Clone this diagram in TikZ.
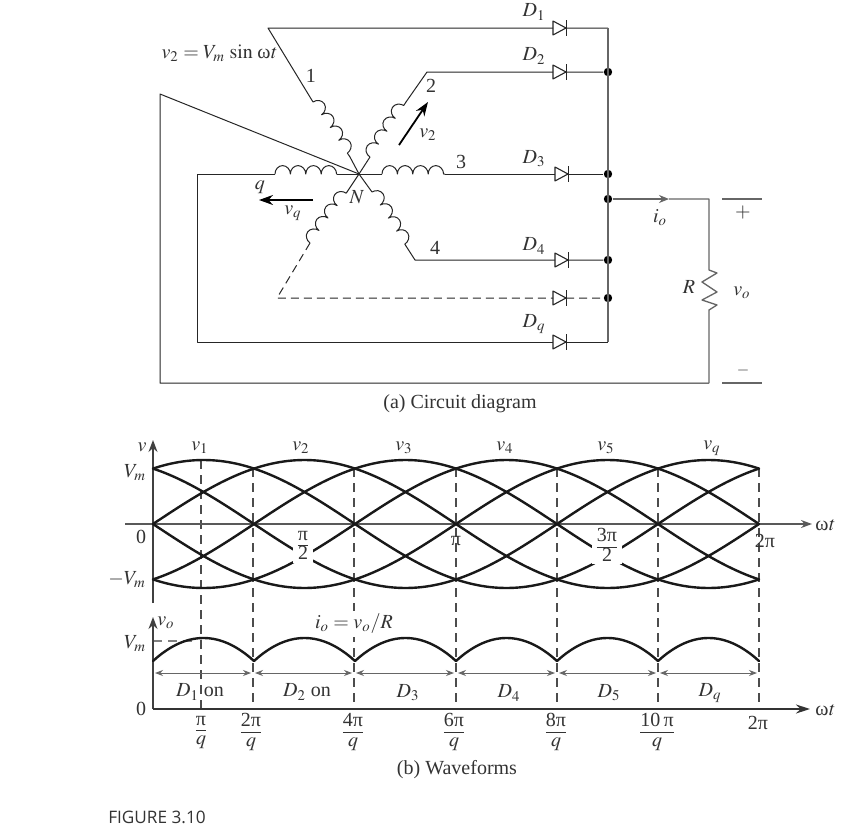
\documentclass[tikz,border=0pt]{standalone}
\usepackage{mathptmx}
\usepackage[no-math]{fontspec}
\setmainfont{Liberation Serif}
\newfontfamily\capfont{Open Sans}
\usetikzlibrary{arrows.meta,shapes.geometric,decorations.pathmorphing}
\newcommand{\upi}{\mbox{π}}
\newcommand{\uom}{\mbox{ω}\mathit{t}}
\newcommand{\upfrac}[2]{$\frac{\mbox{\rule[-2pt]{0pt}{7pt}#1}}{\mbox{\rule{0pt}{6.5pt}#2}}$}
\tikzset{
	wire/.style={line width=0.5pt,draw=black!85},
	bus/.style={line width=0.65pt,draw=black!60},
	dashwire/.style={wire,dash pattern=on 4pt off 2.5pt},
	coil/.style={wire,decorate,decoration={bumps,segment length=15.4pt,amplitude=4.2pt}},
	diode/.style={isosceles triangle,isosceles triangle apex angle=60,isosceles triangle stretches,
		draw=black!85,fill=white,line width=0.55pt,inner sep=0pt,outer sep=0pt,
		minimum height=6.5pt,minimum width=7pt,anchor=west},
	jdot/.style={circle,fill=black,inner sep=0pt,minimum size=4.2pt},
	wave/.style={line width=1.2pt,black!90,line cap=round},
	guide/.style={line width=0.6pt,black!70,dash pattern=on 4.5pt off 3pt},
	axis/.style={line width=0.7pt,black!65,-{Stealth[length=5.5pt,width=4pt]}},
	span/.style={line width=0.5pt,black!60,{Stealth[length=4pt,width=3pt]}-{Stealth[length=4pt,width=3pt]}},
	lab/.style={text=black!80,inner sep=0pt},
}
\begin{document}
\begin{tikzpicture}[x=0.5pt,y=-0.5pt,line join=round]
	\useasboundingbox (0,0) rectangle (859,831);
	\fill[white] (0,0) rectangle (859,831);
	% circuit
	\coordinate (N) at (359,174);
	\coordinate (top1) at (268,28);
	\coordinate (a1) at (313,102);
	\coordinate (b1) at (350,157);
	\coordinate (a2) at (370,157);
	\coordinate (b2) at (406,102);
	\coordinate (top2) at (427,72);
	\coordinate (a3) at (382,174);
	\coordinate (b3) at (445,174);
	\coordinate (a4) at (372,192);
	\coordinate (b4) at (406,246);
	\coordinate (top4) at (415,260);
	\coordinate (a5) at (310,243);
	\coordinate (b5) at (347,192);
	\coordinate (top5) at (277,298);
	\coordinate (aq) at (275,174);
	\coordinate (bq) at (337,174);
	\coordinate (cornq) at (197,174);
	\coordinate (lowq) at (197,342);
	\coordinate (far) at (160,94);
	\coordinate (lowfar) at (160,383);
	\coordinate (ballB) at (608,28);
	\coordinate (ballE) at (608,342);
	\coordinate (rtop) at (709,199);
	\coordinate (rin) at (709,270);
	\coordinate (rout) at (709,310);
	\coordinate (rlow) at (709,383);
	\coordinate (iotip) at (669,199);
	\node[diode] (d1) at (553,28) {};
	\node[diode] (d2) at (553,72) {};
	\node[diode] (d3) at (555,174) {};
	\node[diode] (d4) at (555,260) {};
	\node[diode] (d5) at (553,298) {};
	\node[diode] (dq) at (553,342) {};
	\foreach \n in {d1,d2,d3,d4,d5,dq}
		\draw[wire] (\n.apex) ++(0,-8) -- ++(0,16);
	\node[jdot] (j2) at (608,72) {};
	\node[jdot] (j3) at (608,174) {};
	\node[jdot] (jo) at (608,199) {};
	\node[jdot] (j4) at (608,260) {};
	\node[jdot] (j5) at (608,298) {};
	\draw[wire] (N)--(b1) (a1)--(top1)--(d1.west) (d1.apex)--(ballB);
	\draw[wire] (N)--(a2) (b2)--(top2)--(d2.west) (d2.apex)--(j2);
	\draw[wire] (N)--(a3) (b3)--(d3.west) (d3.apex)--(j3);
	\draw[wire] (N)--(a4) (b4)--(top4)--(d4.west) (d4.apex)--(j4);
	\draw[wire] (N)--(b5);
	\draw[dashwire] (a5)--(top5)--(d5.west) (d5.apex)--(j5);
	\draw[wire] (N)--(bq) (aq)--(cornq)--(lowq)--(dq.west) (dq.apex)--(ballE);
	\draw[wire] (N)--(far)--(lowfar)--(rlow);
	\draw[coil] (a1)--(b1);
	\draw[coil] (a2)--(b2);
	\draw[coil] (a3)--(b3);
	\draw[coil] (a4)--(b4);
	\draw[coil] (a5)--(b5);
	\draw[coil] (aq)--(bq);
	\draw[bus] (ballB)--(ballE);
	\draw[bus,-{Stealth[length=5pt,width=4pt]}] (jo)--(iotip);
	\draw[bus] (iotip)--(rtop)--(rin)--++(8,3)--++(-15,9)--++(15,10)--++(-15,8)--++(15,5)--(rout)--(rlow);
	\draw[bus] (722,199)--(762,199) (722,383)--(762,383);
	\draw[line width=0.9pt,-{Stealth[length=7pt,width=5pt]}] (399,145)--(428,102);
	\draw[line width=0.9pt,-{Stealth[length=7pt,width=5pt]}] (313,200)--(259,200);
	\path[lab]
	(219,53) node[lab]{$v_2=V_m\,\sin\,\uom$}
	(311,76) node[lab]{1}
	(431,86) node[lab]{2}
	(461,162) node[lab]{3}
	(435,248) node[lab]{4}
	(260,187) node[lab]{$q$}
	(293,213) node[lab]{$v_q$}
	(428,135) node[lab]{$v_2$}
	(357,197) node[lab]{$N$}
	(534,12) node[lab]{$D_1$}
	(534,56) node[lab]{$D_2$}
	(534,159) node[lab]{$D_3$}
	(534,246) node[lab]{$D_4$}
	(534,324) node[lab]{$D_q$}
	(660,218) node[lab]{$i_o$}
	(743,212) node[lab]{$+$}
	(743,370) node[lab,scale=0.8]{$-$}
	(689,287) node[lab]{$R$}
	(742,293) node[lab]{$v_o$}
	(460,404) node[lab]{(a) Circuit diagram}
	;
	% waveforms
	\foreach \x/\y in {201/460,253/468,354/468,456/468,557/468,658/468,759/468}
		\draw[guide] (\x,\y)--(\x,709);
	\draw[guide,black!50] (153,641)--(192,641);
	\draw[axis] (125,524)--(812,524);
	\draw[line width=0.7pt,black!75,-{Stealth[length=6pt,width=4.5pt]}] (153,603)--(153,440);
	\draw[line width=0.7pt,black!75,-{Stealth[length=6pt,width=4.5pt]}] (153,709)--(153,617);
	\draw[line width=0.8pt,black!80,-{Stealth[length=7pt,width=4.5pt]}] (153,709)--(810,709);
	\foreach \k in {0,...,5}
		\draw[wave] plot[domain=0:360,samples=73,smooth]
		({153+\x*1.68333},{524-64*sin(\x+\k*60)});
	\foreach \k in {0,...,5}
		\draw[wave] plot[domain=-1:1,samples=21,smooth]
		({203.5+101*\k+50.5*\x},{638+23*\x*\x});
	\foreach \a/\b in {153/253,253/354,354/456,456/557,557/658,658/759}
		\draw[span] (\a+2,673)--(\b-2,673);
	\path[lab]
	(142,447) node[lab]{$v$}
	(200,448) node[lab]{$v_1$}
	(301,448) node[lab]{$v_2$}
	(404,448) node[lab]{$v_3$}
	(505,448) node[lab]{$v_4$}
	(606,448) node[lab]{$v_5$}
	(712,448) node[lab]{$v_q$}
	(135,473) node[lab]{$V_m$}
	(127,580) node[lab]{$-V_m$}
	(141,537) node[lab]{0}
	(303,545) node[lab,fill=white,inner sep=1.5pt]{\upfrac{π}{2}}
	(456,541) node[lab]{\upi}
	(607,545) node[lab,fill=white,inner sep=1.5pt]{\upfrac{3π}{2}}
	(765,541) node[lab]{2\upi}
	(825,525) node[lab]{$\uom$}
	(166,623) node[lab]{$v_o$}
	(135,644) node[lab]{$V_m$}
	(354,624) node[lab,fill=white,inner sep=1.5pt]{$i_o=v_o/R$}
	(200,692) node[lab]{$D_1$ on}
	(307,692) node[lab]{$D_2$ on}
	(408,693) node[lab]{$D_3$}
	(509,693) node[lab]{$D_4$}
	(609,693) node[lab]{$D_5$}
	(710,693) node[lab]{$D_q$}
	(141,709) node[lab]{0}
	(201,732) node[lab]{\upfrac{π}{$q$}}
	(251,732) node[lab]{\upfrac{2π}{$q$}}
	(353,732) node[lab]{\upfrac{4π}{$q$}}
	(454,732) node[lab]{\upfrac{6π}{$q$}}
	(556,732) node[lab]{\upfrac{8π}{$q$}}
	(657,732) node[lab]{\upfrac{10\,π}{$q$}}
	(758,723) node[lab]{2\upi}
	(825,710) node[lab]{$\uom$}
	(457,770) node[lab]{(b) Waveforms}
	(157,817) node[lab]{\capfont\fontsize{8.6}{10}\selectfont FIGURE 3.10}
	;
\end{tikzpicture}
\end{document}
